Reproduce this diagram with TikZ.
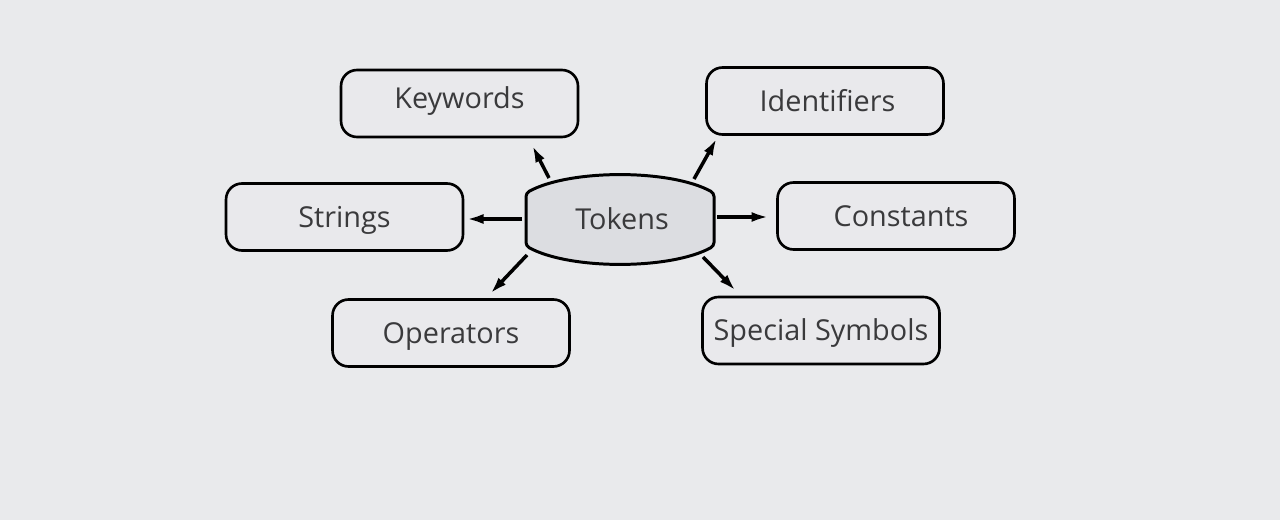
\documentclass[tikz,border=0pt]{standalone}
\usepackage{fontspec}
\setmainfont{Open Sans}
\usetikzlibrary{arrows.meta}
\definecolor{bg}{RGB}{233,234,236}
\definecolor{boxfill}{RGB}{233,233,236}
\definecolor{tokfill}{RGB}{220,221,225}
\definecolor{txt}{RGB}{58,58,60}
\tikzset{
  lbl/.style={text=txt, font=\fontsize{16.4}{19}\selectfont, text height=0.42cm, text depth=0pt},
  leaf/.style={lbl, draw=black, line width=1.5pt, rounded corners=0.32cm, fill=boxfill,
    minimum width=4.74cm, minimum height=1.34cm, inner sep=0pt},
  conn/.style={line width=2pt, -{Latex[length=3.5mm,width=2mm]}},
}
\begin{document}
\begin{tikzpicture}[x=0.02cm, y=-0.02cm]
\useasboundingbox[fill=bg] (0,0) rectangle (1280,520);
% central shape
\draw[line width=1.7pt, fill=tokfill, rounded corners=2pt]
  (526,220) -- (526,246) .. controls (570,270) and (670,270) .. (714,246)
  -- (714,193) .. controls (670,169) and (570,169) .. (526,193) -- cycle;
\node[lbl] (tokens) at (622,219.5) {Tokens};
% leaves
\node[leaf, text height=0.22cm] (keywords) at (459.5,103.5) {Keywords};
\node[leaf] (identifiers) at (825,101) {\hspace{0.1cm}Identifiers};
\node[leaf] (strings) at (344.5,217) {Strings};
\node[leaf] (constants) at (896,216) {\hspace{0.2cm}Constants};
\node[leaf] (operators) at (451,333) {Operators};
\node[leaf] (special) at (821,330.5) {Special Symbols};
% connector ends
\coordinate (kw-s) at (549,178); \coordinate (kw-e) at (532,145);
\coordinate (id-s) at (694,179); \coordinate (id-e) at (717,138);
\coordinate (st-s) at (522,219); \coordinate (st-e) at (466,219);
\coordinate (co-s) at (717,217); \coordinate (co-e) at (769,217);
\coordinate (op-s) at (527,255); \coordinate (op-e) at (490,294);
\coordinate (sp-s) at (703,257); \coordinate (sp-e) at (736,291);
\draw[conn] (kw-s) -- (kw-e);
\draw[conn] (id-s) -- (id-e);
\draw[conn] (st-s) -- (st-e);
\draw[conn] (co-s) -- (co-e);
\draw[conn] (op-s) -- (op-e);
\draw[conn] (sp-s) -- (sp-e);
\end{tikzpicture}
\end{document}
